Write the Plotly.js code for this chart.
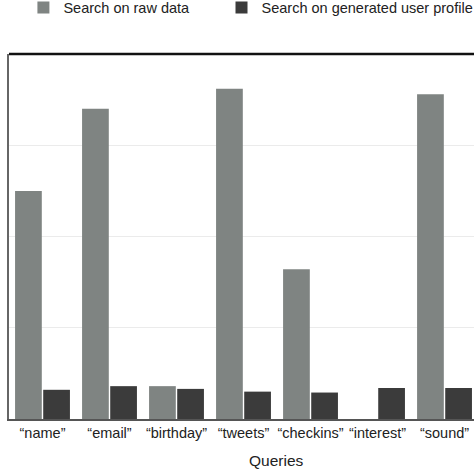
<!DOCTYPE html>
<html>
<head>
<meta charset="utf-8">
<script src="https://cdn.plot.ly/plotly-3.0.1.min.js"></script>
<style>html,body{margin:0;padding:0;background:#fff;overflow:hidden}</style>
</head>
<body>
<div id="chart" style="width:474px;height:474px"></div>
<script>
const categories = ["\u201cname\u201d", "\u201cemail\u201d", "\u201cbirthday\u201d", "\u201ctweets\u201d", "\u201ccheckins\u201d", "\u201cinterest\u201d", "\u201csound\u201d"];
const rawValues = [2.50, 3.40, 0.36, 3.62, 1.64, 0, 3.56];
const profileValues = [0.32, 0.36, 0.33, 0.30, 0.29, 0.34, 0.34];
const seriesNames = ["Search on raw data", "Search on generated user profile"];
const xTitle = "Queries";

const font = {family: "Liberation Sans, Arial, sans-serif", size: 14.5, color: "#222"};

const traces = [
  {type: "bar", name: seriesNames[0], x: categories, y: rawValues, marker: {color: "#7f8482"}, legend: "legend"},
  {type: "bar", name: seriesNames[1], x: categories, y: profileValues, marker: {color: "#3b3b3b"}, legend: "legend2"}
];

const legendBase = {orientation: "h", xanchor: "left", y: 1.171, yanchor: "top",
                    font: font, bgcolor: "rgba(0,0,0,0)"};

const layout = {
  width: 474, height: 474,
  margin: {l: 9, r: 0, t: 54, b: 55, autoexpand: false},
  paper_bgcolor: "#fff", plot_bgcolor: "#fff",
  font: font,
  barmode: "group", bargap: 0.16, bargroupgap: 0.05,
  showlegend: true,
  legend: Object.assign({}, legendBase, {x: 0.031}),
  legend2: Object.assign({}, legendBase, {x: 0.457}),
  xaxis: {range: [-0.5, 6.44], showline: true, linecolor: "#555", linewidth: 2,
          ticks: "", tickfont: font, showgrid: false, zeroline: false, fixedrange: true},
  yaxis: {range: [0, 4], showline: true, linecolor: "#666", linewidth: 2,
          showticklabels: false, ticks: "", dtick: 1, showgrid: true, gridcolor: "#ebebeb",
          zeroline: false, fixedrange: true},
  shapes: [{type: "line", xref: "paper", yref: "paper", x0: 0, x1: 1, y0: 1, y1: 1,
            line: {color: "#111", width: 2.5}}],
  annotations: [{text: xTitle, xref: "paper", yref: "paper", x: 0.576, y: -0.115,
                 xanchor: "center", yanchor: "middle", showarrow: false,
                 font: {family: font.family, size: 15.5, color: "#222"}}]
};

Plotly.newPlot("chart", traces, layout, {displayModeBar: false, staticPlot: true});
</script>
</body>
</html>
